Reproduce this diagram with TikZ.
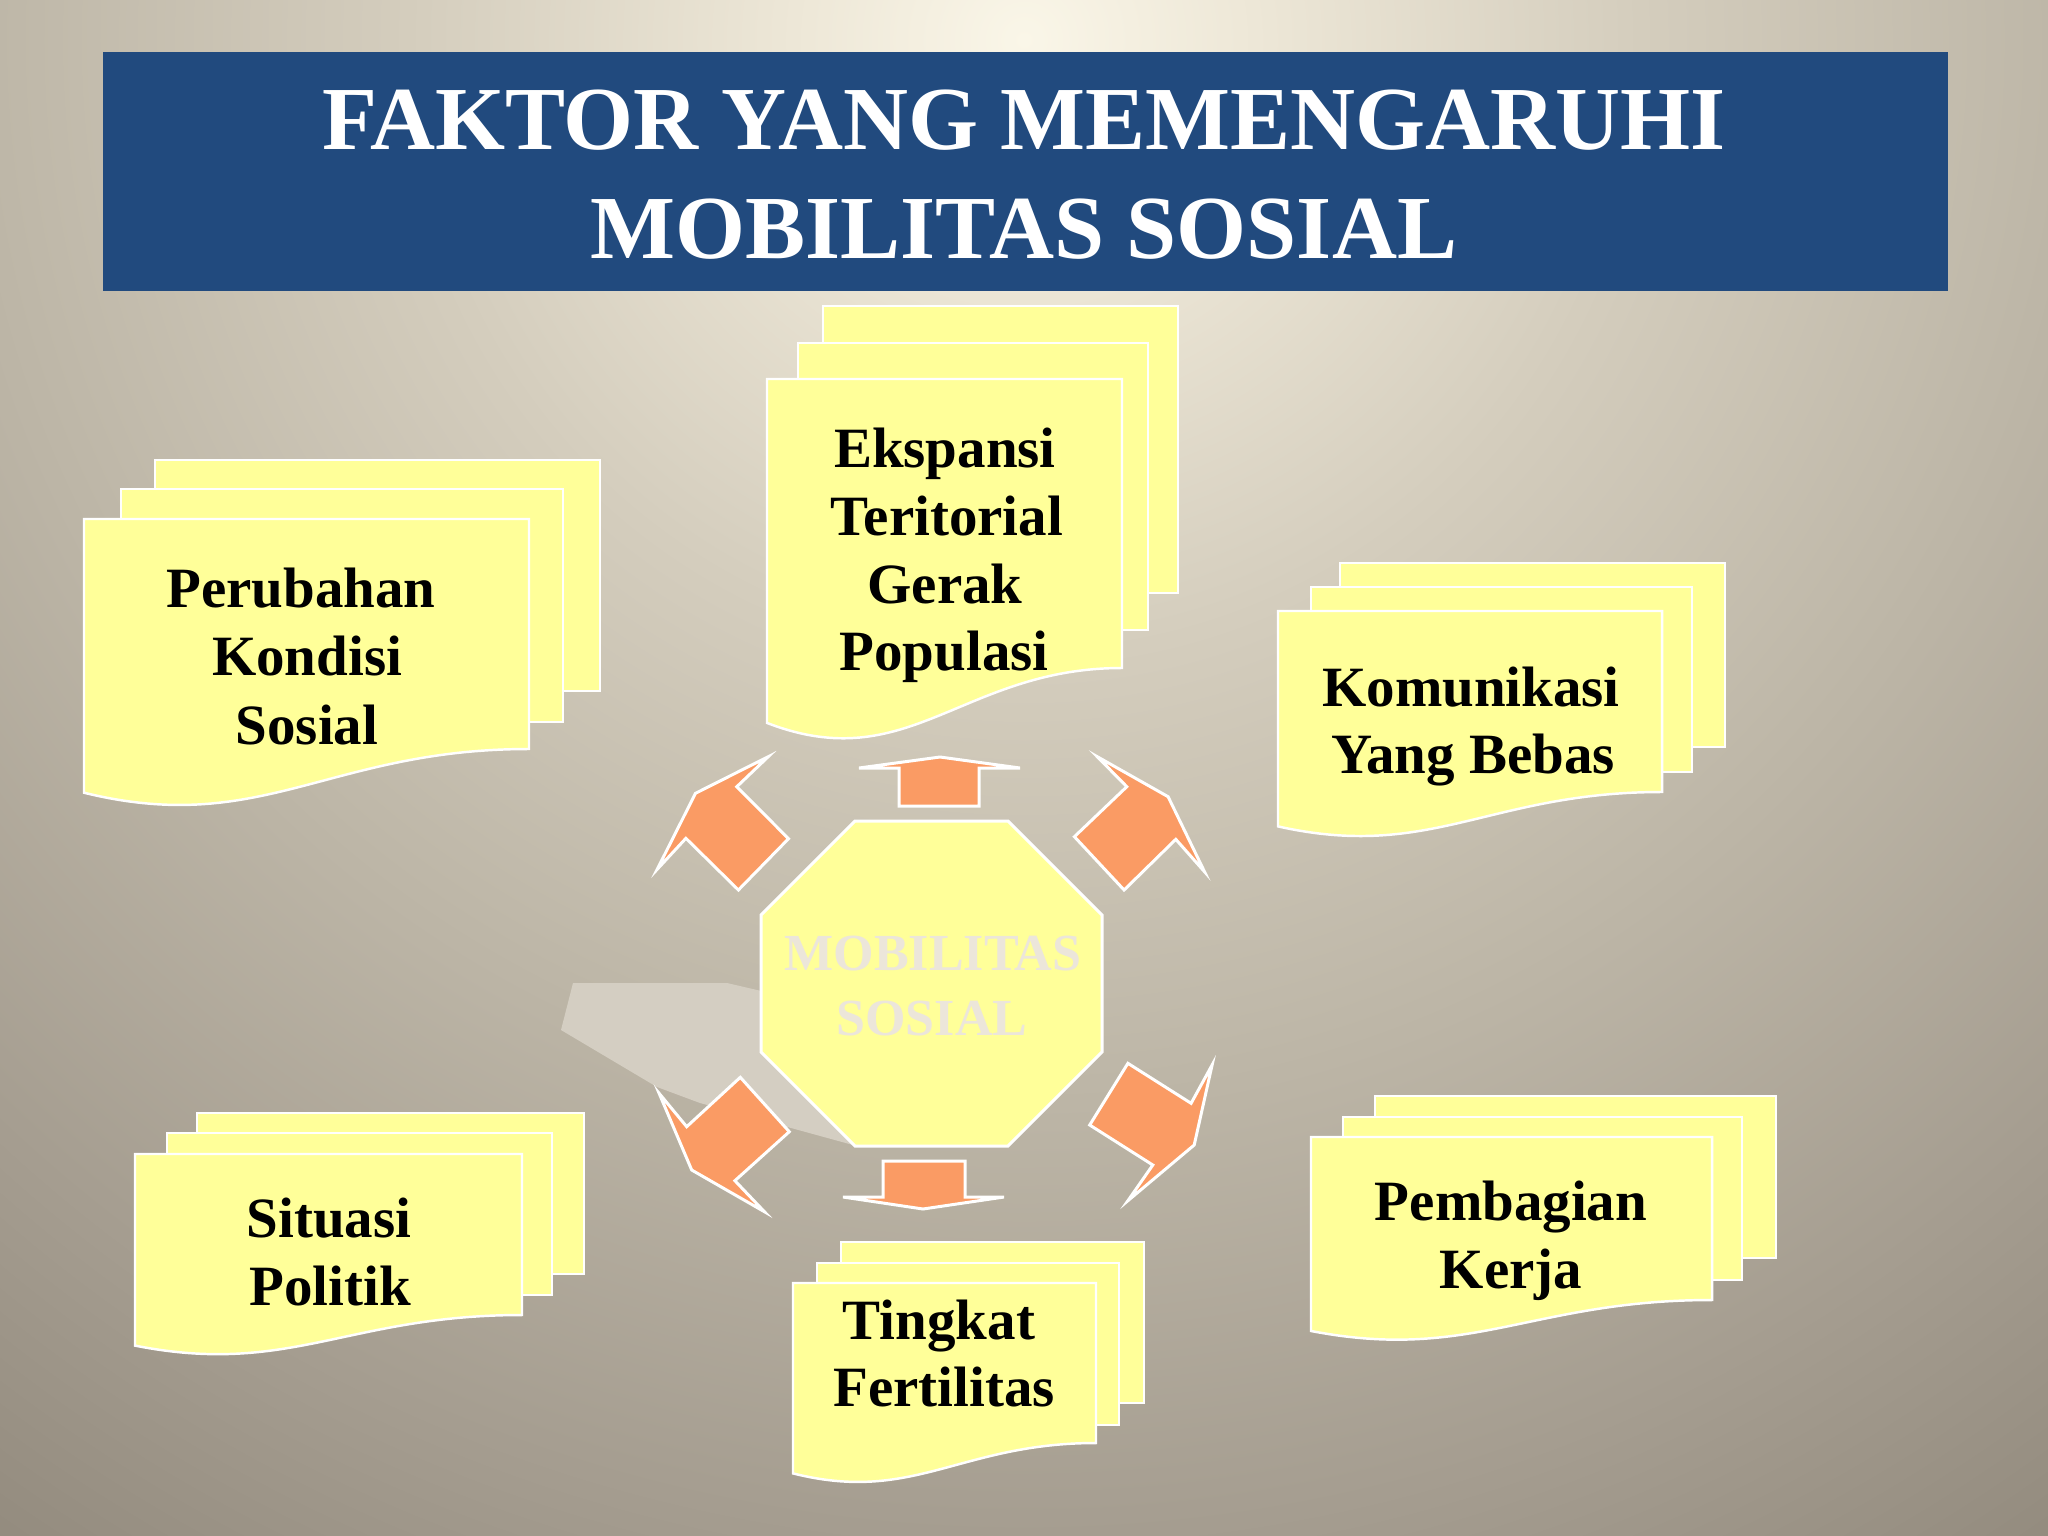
\documentclass[tikz,border=0pt]{standalone}
\usepackage{fontspec}
\setmainfont{Liberation Serif}
\definecolor{bgA}{RGB}{250,246,232}
\definecolor{bgB}{RGB}{238,232,216}
\definecolor{bgC}{RGB}{212,205,189}
\definecolor{bgD}{RGB}{188,181,166}
\definecolor{bgE}{RGB}{165,157,144}
\definecolor{bgF}{RGB}{135,127,114}
\definecolor{titleblue}{RGB}{33,74,126}
\definecolor{docyellow}{RGB}{255,255,153}
\definecolor{arroworange}{RGB}{250,155,100}
\definecolor{lightpatch}{RGB}{212,206,194}
\definecolor{octtextcol}{RGB}{236,230,218}
\pgfdeclareradialshading{bgshade}{\pgfpointorigin}{color(0bp)=(bgA); color(2.7bp)=(bgB); color(7.7bp)=(bgC); color(13.3bp)=(bgD); color(18.7bp)=(bgE); color(25.5bp)=(bgF); color(50bp)=(bgF)}
\tikzset{
  pagestyle/.style={fill=docyellow, draw=white, line width=0.7pt, line join=miter},
  arrowstyle/.style={fill=arroworange, draw=white, line width=0.85pt, line join=miter},
  octstyle/.style={fill=docyellow, draw=white, line width=0.85pt},
  boxtext/.style={font=\fontsize{16.2pt}{19pt}\selectfont\bfseries, text=black, anchor=base, inner sep=0pt},
  titletext/.style={font=\fontsize{25.6pt}{30pt}\selectfont\bfseries, text=white, anchor=base, inner sep=0pt},
  octtext/.style={font=\fontsize{14.8pt}{18pt}\selectfont\bfseries, text=octtextcol, anchor=base, inner sep=0pt}
}
% front page with wavy bottom: L T R B
\newcommand{\wavepage}[4]{%
  \pgfmathsetmacro{\wW}{#3-#1}\pgfmathsetmacro{\wH}{#4-#2}%
  \pgfmathsetmacro{\cax}{#1+0.55*\wW}\pgfmathsetmacro{\cbx}{#1+0.4*\wW}%
  \pgfmathsetmacro{\cby}{#4+0.38*\wH}\pgfmathsetmacro{\ey}{#4+0.19*\wH}%
  \filldraw[pagestyle] (#1,#2) -- (#3,#2) -- (#3,#4) .. controls (\cax,#4) and (\cbx,\cby) .. (#1,\ey) -- cycle;}
\newcommand{\flatpage}[4]{\filldraw[pagestyle] (#1,#2) rectangle (#3,#4);}
\begin{document}
\begin{tikzpicture}[x=0.01cm,y=-0.01cm]
\useasboundingbox (0,0) rectangle (2048,1536);
\begin{scope}
  \clip (0,0) rectangle (2048,1536);
  \shade[shading=bgshade] (-976,-1960) rectangle (3024,2040);
\end{scope}

% title
\node (titlebox) [fill=titleblue, inner sep=0pt, minimum width=18.44cm, minimum height=2.39cm, anchor=north west] at (102,51) {};
\node[titletext] (title1) at (1024,149) {FAKTOR YANG MEMENGARUHI};
\node[titletext] (title2) at (1024,258) {MOBILITAS SOSIAL};

% light patch
\fill[lightpatch] (573,983) -- (727,983) -- (800,1000) -- (880,1140) -- (853,1145) -- (700,1103) -- (657,1087) -- (561,1030) -- cycle;

% Perubahan Kondisi Sosial
\flatpage{155}{460}{600}{691}
\flatpage{121}{489}{563}{722}
\wavepage{84}{519}{529}{749}
\node[boxtext] (pa) at (301,607) {Perubahan};
\node[boxtext] (pb) at (307,675) {Kondisi};
\node[boxtext] (pc) at (307,744) {Sosial};

% Ekspansi Teritorial Gerak Populasi
\flatpage{823}{306}{1178}{593}
\flatpage{798}{343}{1148}{630}
\wavepage{767}{379}{1122}{668}
\node[boxtext] (ea) at (945,467) {Ekspansi};
\node[boxtext] (eb) at (947,535) {Teritorial};
\node[boxtext] (ec) at (945,603) {Gerak};
\node[boxtext] (ed) at (944,670) {Populasi};

% Komunikasi Yang Bebas
\flatpage{1340}{563}{1725}{747}
\flatpage{1311}{587}{1692}{772}
\wavepage{1278}{611}{1662}{792}
\node[boxtext] (ka) at (1471,706) {Komunikasi};
\node[boxtext] (kb) at (1473,773) {Yang Bebas};

% Situasi Politik
\flatpage{197}{1113}{584}{1274}
\flatpage{167}{1133}{552}{1295}
\wavepage{135}{1154}{522}{1315}
\node[boxtext] (sa) at (329,1237) {Situasi};
\node[boxtext] (sb) at (330,1305) {Politik};

% Tingkat Fertilitas
\flatpage{841}{1242}{1144}{1403}
\flatpage{817}{1263}{1119}{1425}
\wavepage{793}{1283}{1096}{1443}
\node[boxtext] (ta) at (939,1339) {Tingkat};
\node[boxtext] (tb) at (944,1406) {Fertilitas};

% Pembagian Kerja
\flatpage{1375}{1096}{1776}{1258}
\flatpage{1343}{1117}{1742}{1280}
\wavepage{1311}{1137}{1712}{1300}
\node[boxtext] (ba) at (1511,1220) {Pembagian};
\node[boxtext] (bb) at (1511,1288) {Kerja};

% arrows
\filldraw[arrowstyle] (859,768) -- (940,757) -- (1020,768) -- (979,768) -- (979,806) -- (899,806) -- (899,768) -- cycle;
\filldraw[arrowstyle] (843,1197) -- (883,1197) -- (883,1161) -- (965,1161) -- (965,1197) -- (1004,1197) -- (923,1209) -- cycle;
\filldraw[arrowstyle] (768.2,756.7) -- (695.5,793.3) -- (657.2,869.3) -- (685.9,838.3) -- (738.4,890) -- (788.5,838.7) -- (736.8,786.7) -- cycle;
\filldraw[arrowstyle] (1097.3,756.7) -- (1168.1,796.7) -- (1204.5,871.7) -- (1175.8,839.3) -- (1124.1,890) -- (1074.4,836.7) -- (1126.8,786.7) -- cycle;
\filldraw[arrowstyle] (659.1,1093.3) -- (686.7,1126.7) -- (740.3,1077.3) -- (789.3,1131.7) -- (734.9,1180.7) -- (764.4,1211.7) -- (691.7,1170) -- cycle;
\filldraw[arrowstyle] (1212.1,1065) -- (1194.2,1145) -- (1127.9,1200.7) -- (1152.8,1165) -- (1089.7,1125) -- (1127.9,1063.3) -- (1191.1,1103.3) -- cycle;

% octagon
\filldraw[octstyle] (855,821) -- (1008,821) -- (1102,915) -- (1102,1052) -- (1008,1146) -- (855,1146) -- (761,1052) -- (761,915) -- cycle;
\node[octtext] (oa) at (933,970) {MOBILITAS};
\node[octtext] (ob) at (932,1035) {SOSIAL};
\end{tikzpicture}
\end{document}
